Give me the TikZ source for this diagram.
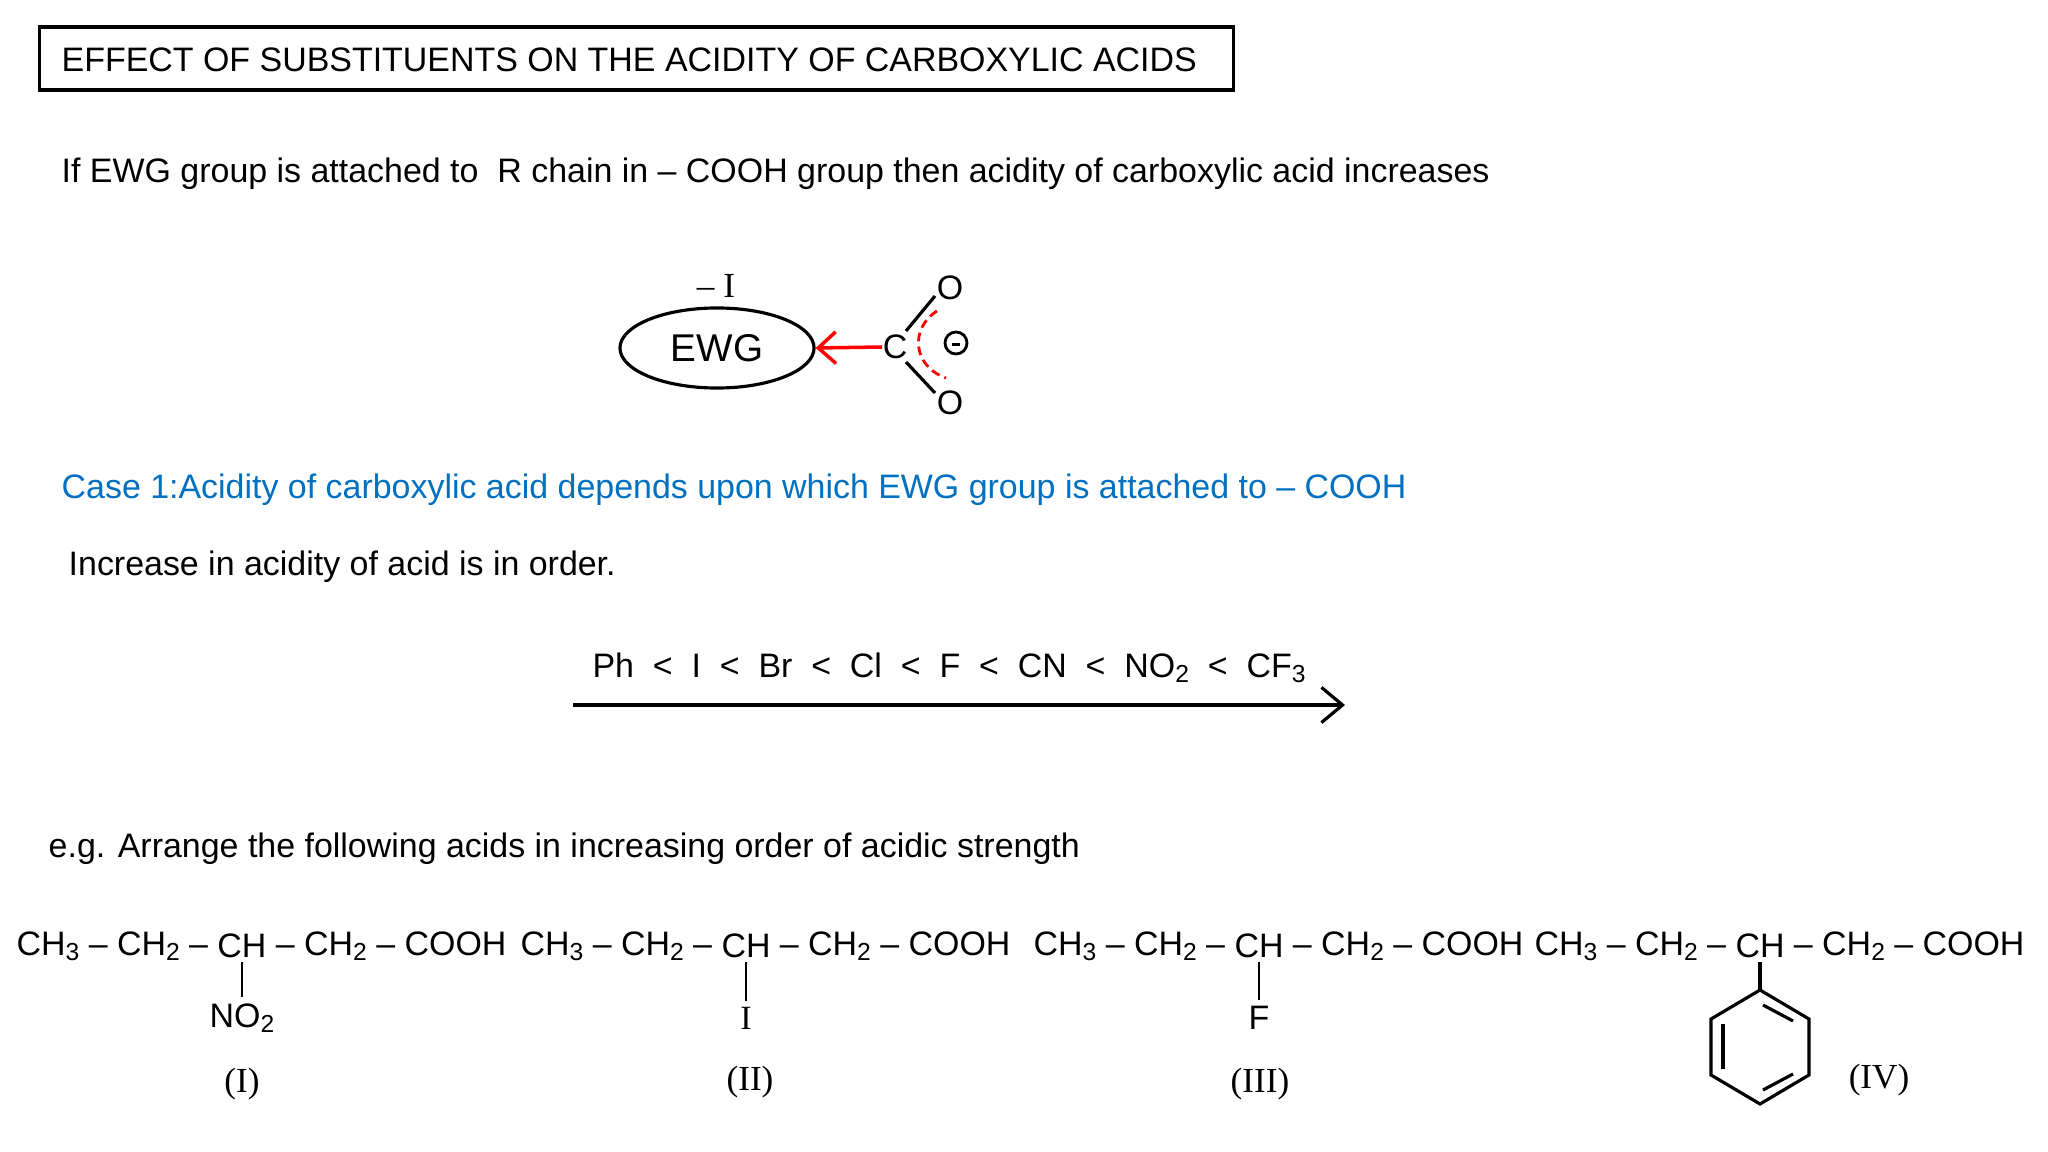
\documentclass[tikz,border=0pt]{standalone}
\usepackage{fontspec}
\usetikzlibrary{shapes.geometric,arrows.meta,calc}
\setmainfont{Liberation Sans}
\newfontfamily\serifF{Liberation Serif}
\newcommand{\sbs}[1]{\raisebox{-0.3ex}{\fontsize{7}{8}\selectfont #1}}
\begin{document}
\begin{tikzpicture}[x=0.01cm,y=-0.01cm,
  txt/.style={inner sep=0pt,font=\fontsize{9.65}{11}\selectfont},
  lbl/.style={inner sep=0pt,font=\fontsize{10}{11}\serifF},
  bond/.style={line width=0.9pt}]
\useasboundingbox (0,0) rectangle (2048,1152);
\node[draw,line width=0.9pt,inner sep=0pt,minimum width=11.93cm,minimum height=0.63cm] (tbox) at (636.5,58.5) {};
\node[txt,anchor=west] (title) at (61,60) {EFFECT OF SUBSTITUENTS ON THE ACIDITY OF CARBOXYLIC ACIDS};
\node[txt,anchor=west] (l1) at (61,174) {If EWG group is attached to \ R chain in – COOH group then acidity of carboxylic acid increases};
% EWG
\node[draw,ellipse,line width=0.9pt,minimum width=1.94cm,minimum height=0.80cm,inner sep=0pt,txt,font=\fontsize{11}{12}\selectfont] (ewg) at (717,348) {EWG};
\node[lbl] (mi) at (716,286) {– I};
\node[txt] (c) at (895,347) {C};
\node[txt] (o1) at (950,288) {O};
\node[txt] (o2) at (950,403) {O};
\node[draw,circle,inner sep=0pt,minimum size=0.22cm,line width=0.8pt] (neg) at (956,343) {};
\draw[line width=0.9pt] ($(neg.center)+(-4,1.5)$) -- ($(neg.center)+(4,1.5)$);
\coordinate (b1) at (906,331); \coordinate (b2) at (935,296);
\coordinate (b3) at (906,362); \coordinate (b4) at (935,393);
\draw[bond] (b1) -- (b2);
\draw[bond] (b3) -- (b4);
\draw[red,line width=1pt,-{Straight Barb[length=5pt,width=9pt]}] (c.west) -- (ewg.east);
\coordinate (a1) at (937,311); \coordinate (a2) at (946,378);
\draw[red,line width=0.8pt,dash pattern=on 2.5pt off 1.5pt] (a1) .. controls (910,328) and (912,366) .. (a2);
% case
\node[txt,anchor=west,text={rgb,255:red,0;green,112;blue,192}] (case) at (61,490) {Case 1:Acidity of carboxylic acid depends upon which EWG group is attached to – COOH};
\node[txt,anchor=west] (inc) at (68,567) {Increase in acidity of acid is in order.};
\node[txt] (ord) at (949,668) {Ph \ < \ I \ < \ Br \ < \ Cl \ < \ F \ < \ CN \ < \ NO\sbs{2} \ < \ CF\sbs{3}};
\coordinate (ar1) at (573,705); \coordinate (ar2) at (1345,705);
\draw[line width=0.9pt,-{Straight Barb[length=6pt,width=10pt]}] (ar1) -- (ar2);
\node[txt,anchor=west] (eg) at (48,849) {e.g. Arrange the following acids in increasing order of acidic strength};
% molecules
\foreach \i/\x in {1/242, 2/746, 3/1259, 4/1760} {
  \node[txt] (ch\i) at (\x,946) {CH};
  \node[txt,anchor=east] (L\i) at ([xshift=-0.08cm]ch\i.west) {CH\sbs{3} – CH\sbs{2} –};
  \node[txt,anchor=west] (R\i) at ([xshift=0.08cm]ch\i.east) {– CH\sbs{2} – COOH};
}
\foreach \i/\x/\sub in {1/242/NO\sbs{2}, 2/746/{\serifF I}, 3/1259/F} {
  \node[txt] (s\i) at (\x,1018) {\sub};
  \draw[line width=0.8pt] ([yshift=-1]ch\i.south) -- ([yshift=1.5]s\i.north);
}
\node[lbl] (n1) at (242,1084) {(I)};
\node[lbl] (n2) at (750,1082) {(II)};
\node[lbl] (n3) at (1260,1084) {(III)};
\node[lbl] (n4) at (1879,1080) {(IV)};
\coordinate (bt) at (1760,990);
\draw[bond] ([yshift=-1]ch4.south) -- (bt);
\begin{scope}[shift={(1760,1047)}]
\draw[bond] (0,-57) -- (49,-28) -- (49,28) -- (0,57) -- (-49,28) -- (-49,-28) -- cycle;
\draw[bond] (3,-42) -- (33,-26);
\draw[bond] (33,27) -- (3,43);
\draw[bond] (-37,-23) -- (-37,22);
\end{scope}
\end{tikzpicture}
\end{document}
